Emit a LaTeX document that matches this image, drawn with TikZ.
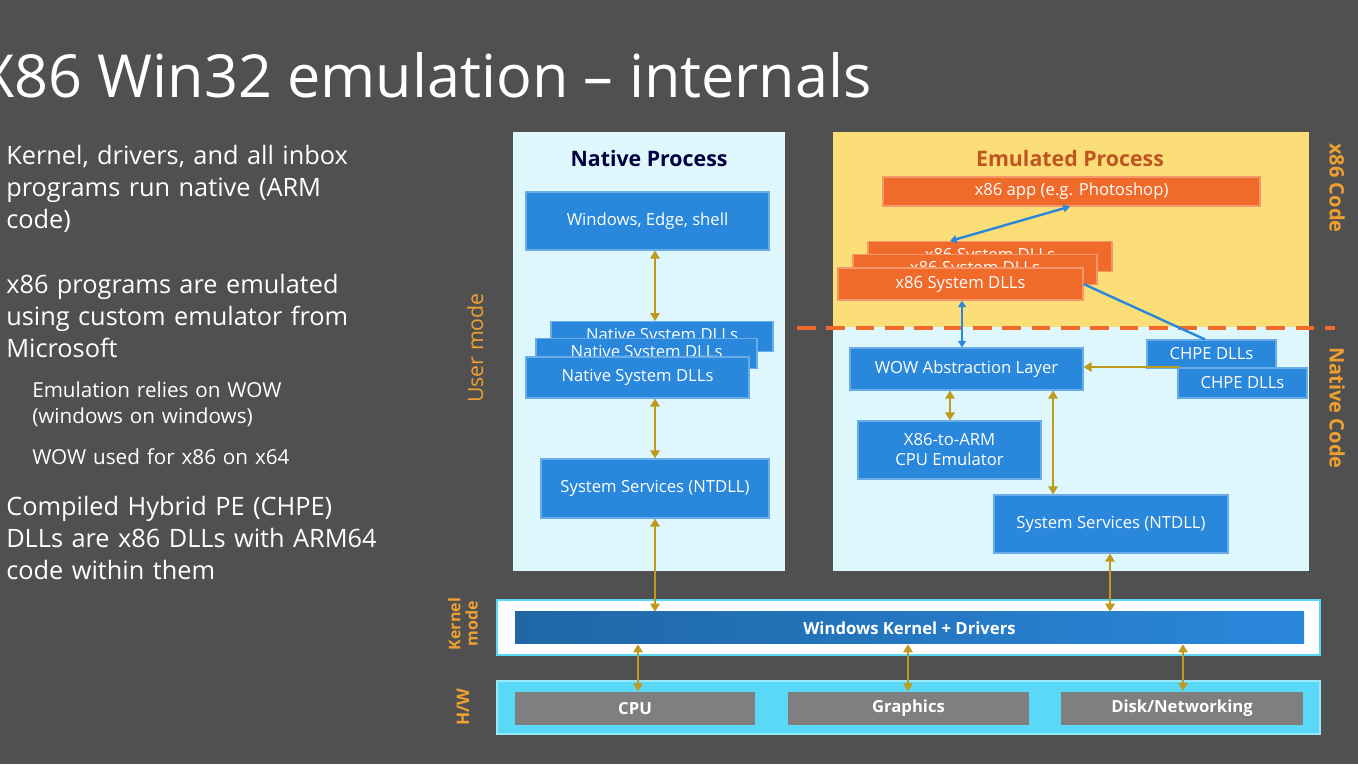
\documentclass[tikz,border=0pt]{standalone}
\usepackage{fontspec}
\setmainfont{Open Sans}
\usetikzlibrary{arrows.meta}
\definecolor{bg}{HTML}{505050}
\definecolor{lcyan}{HTML}{DDF7FD}
\definecolor{yel}{HTML}{FCDE78}
\definecolor{bb}{HTML}{2A88DC}
\definecolor{orb}{HTML}{F06A2A}
\definecolor{gold}{HTML}{BE9A1E}
\definecolor{lab}{HTML}{F0A030}
\definecolor{grey}{HTML}{7F7F7F}
\definecolor{hw}{HTML}{5AD8F8}
\begin{document}
\begin{tikzpicture}[x=0.75pt,y=-0.75pt,
  box/.style={draw=#1!70!white,line width=0.8pt,fill=#1,text=white,font=\fontsize{12.5}{15}\selectfont,align=center,inner sep=0pt},
  garr/.style={draw=gold,line width=2pt,{Triangle[length=6pt,width=7pt]}-{Triangle[length=6pt,width=7pt]}},
  barr/.style={draw=bb,line width=1.8pt,{Triangle[length=5pt,width=6pt]}-{Triangle[length=5pt,width=6pt]}},
  side/.style={text=lab,rotate=90,font=\fontsize{16}{18}\selectfont}]
\useasboundingbox (0,0) rectangle (1358,764);
\fill[bg] (0,0) rectangle (1358,764);
\begin{scope}
\clip (0,0) rectangle (1358,764);
\node[anchor=base west,text=white,inner sep=0pt,font=\fontsize{44.5}{52}\selectfont] (title) at (-20,97) {X86 Win32 emulation – internals};
\end{scope}
% bullets
\node[anchor=north west,text=white,align=left,inner sep=0pt,font=\fontsize{19}{24}\selectfont,text width=400pt] (b1) at (6,145) {Kernel, drivers, and all inbox\\programs run native (ARM\\code)};
\node[anchor=north west,text=white,align=left,inner sep=0pt,font=\fontsize{19}{24}\selectfont,text width=400pt] (b2) at (6,274) {x86 programs are emulated\\using custom emulator from\\Microsoft};
\node[anchor=north west,text=white,align=left,inner sep=0pt,font=\fontsize{15.5}{19.5}\selectfont,text width=300pt] (b3) at (32,382) {Emulation relies on WOW\\(windows on windows)};
\node[anchor=north west,text=white,align=left,inner sep=0pt,font=\fontsize{15.5}{19.5}\selectfont,text width=300pt] (b4) at (32,448) {WOW used for x86 on x64};
\node[anchor=north west,text=white,align=left,inner sep=0pt,font=\fontsize{19}{24}\selectfont,text width=400pt] (b5) at (6,496) {Compiled Hybrid PE (CHPE)\\DLLs are x86 DLLs with ARM64\\code within them};
% panels
\fill[lcyan] (513,132) rectangle (785,571);
\fill[yel] (833,132) rectangle (1309,327);
\fill[lcyan] (833,327) rectangle (1309,571);
\draw[orb,line width=3pt,dash pattern=on 14pt off 8pt] (797,328) -- (1335,328);
\node[text=black!75!blue,font=\bfseries\fontsize{16}{18}\selectfont] (np) at (649,158) {Native Process};
\node[text=orb!80!black,font=\bfseries\fontsize{16}{18}\selectfont] (ep) at (1070,158) {Emulated Process};
\node[side,font=\bfseries\fontsize{15}{18}\selectfont,rotate=-180] (x86c) at (1337,188) {x86 Code};
\node[side,font=\bfseries\fontsize{15}{18}\selectfont,rotate=-180] (natc) at (1337,408) {Native Code};
\node[side] (um) at (475,348) {User mode};
% native boxes
\node[box=bb,minimum width=243*0.75pt,minimum height=58*0.75pt] (web) at (647.5,221) {Windows, Edge, shell};
\node[box=bb,minimum width=222*0.75pt,minimum height=30*0.75pt,anchor=north] (nd3) at (662,321) {Native System DLLs};
\node[box=bb,minimum width=221*0.75pt,minimum height=30*0.75pt,anchor=north] (nd2) at (646.5,338) {Native System DLLs};
\node[box=bb,minimum width=223*0.75pt,minimum height=41*0.75pt] (nd1) at (637.5,377.5) {Native System DLLs};
\node[box=bb,minimum width=228*0.75pt,minimum height=59*0.75pt] (nss) at (655,488.5) {System Services (NTDLL)};
% emulated boxes
\node[box=orb,minimum width=377*0.75pt,minimum height=29*0.75pt] (app) at (1071.5,191.5) {x86 app (e.g. Photoshop)};
\node[box=orb,minimum width=244*0.75pt,minimum height=30*0.75pt,anchor=north] (xd3) at (990,241) {x86 System DLLs};
\node[box=orb,minimum width=244*0.75pt,minimum height=30*0.75pt,anchor=north] (xd2) at (975,254) {x86 System DLLs};
\node[box=orb,minimum width=245*0.75pt,minimum height=32*0.75pt] (xd1) at (960.5,284) {x86 System DLLs};
\node[box=bb,minimum width=233*0.75pt,minimum height=42*0.75pt] (wow) at (966.5,369) {WOW Abstraction Layer};
\node[box=bb,minimum width=129*0.75pt,minimum height=28*0.75pt] (ch1) at (1211.5,354) {CHPE DLLs};
\node[box=bb,minimum width=129*0.75pt,minimum height=30*0.75pt] (ch2) at (1242.5,383) {CHPE DLLs};
\node[box=bb,minimum width=183*0.75pt,minimum height=58*0.75pt] (emu) at (949.5,450) {X86-to-ARM\\CPU Emulator};
\node[box=bb,minimum width=234*0.75pt,minimum height=58*0.75pt] (ess) at (1111,524) {System Services (NTDLL)};
% kernel
\draw[fill=white,draw=hw,line width=1pt] (497,600) rectangle (1320,655);
\shade[left color=bb!75!black,right color=bb] (515,611) rectangle (1304,643);
\node[text=white,font=\bfseries\fontsize{12.5}{15}\selectfont,minimum width=789*0.75pt,minimum height=32*0.75pt] (kern) at (909.5,628) {Windows Kernel + Drivers};
\node[side,font=\bfseries\fontsize{12}{13}\selectfont,align=center] (km) at (463,624) {Kernel\\mode};
% hw
\draw[fill=hw,draw=hw!60!white,line width=1pt] (497,681) rectangle (1320,734);
\node[box=grey,draw=none,font=\bfseries\fontsize{12.5}{15}\selectfont,minimum width=240*0.75pt,minimum height=33*0.75pt] (cpu) at (635,708.5) {CPU};
\node[box=grey,draw=none,font=\bfseries\fontsize{12.5}{15}\selectfont,minimum width=241*0.75pt,minimum height=33*0.75pt] (gfx) at (908.5,708.5) {Graphics};
\node[box=grey,draw=none,font=\bfseries\fontsize{12.5}{15}\selectfont,minimum width=242*0.75pt,minimum height=33*0.75pt] (disk) at (1182,708) {Disk/Networking};
\node[side,font=\bfseries\fontsize{13}{15}\selectfont] (hwl) at (463,707) {H/W};
% arrows
\draw[garr] (web.south -| 655,0) -- (nd3.north -| 655,0);
\draw[garr] (nd1.south -| 655,0) -- (nss.north -| 655,0);
\draw[garr] (nss.south -| 655,0) -- (kern.north -| 655,0);
\draw[garr] (ess.south -| 1110,0) -- (kern.north -| 1110,0);
\draw[garr] (kern.south -| 638,0) -- (cpu.north -| 638,0);
\draw[garr] (kern.south -| 908,0) -- (gfx.north -| 908,0);
\draw[garr] (kern.south -| 1183,0) -- (disk.north -| 1183,0);
\draw[garr] (wow.south -| 950,0) -- (emu.north -| 950,0);
\draw[garr] (wow.south -| 1053,0) -- (ess.north -| 1053,0);
\draw[draw=gold,line width=2pt,-{Triangle[length=6pt,width=7pt]}] (1180,367) -- (wow.east |- 0,367);
\draw[barr] (app.south -| 1070,0) -- (xd3.north -| 950,0);
\draw[barr] (xd1.south -| 962,0) -- (wow.north -| 962,0);
\draw[bb,line width=1.8pt] (xd1.east) -- (ch1.north -| 1205,0);
\end{tikzpicture}
\end{document}
